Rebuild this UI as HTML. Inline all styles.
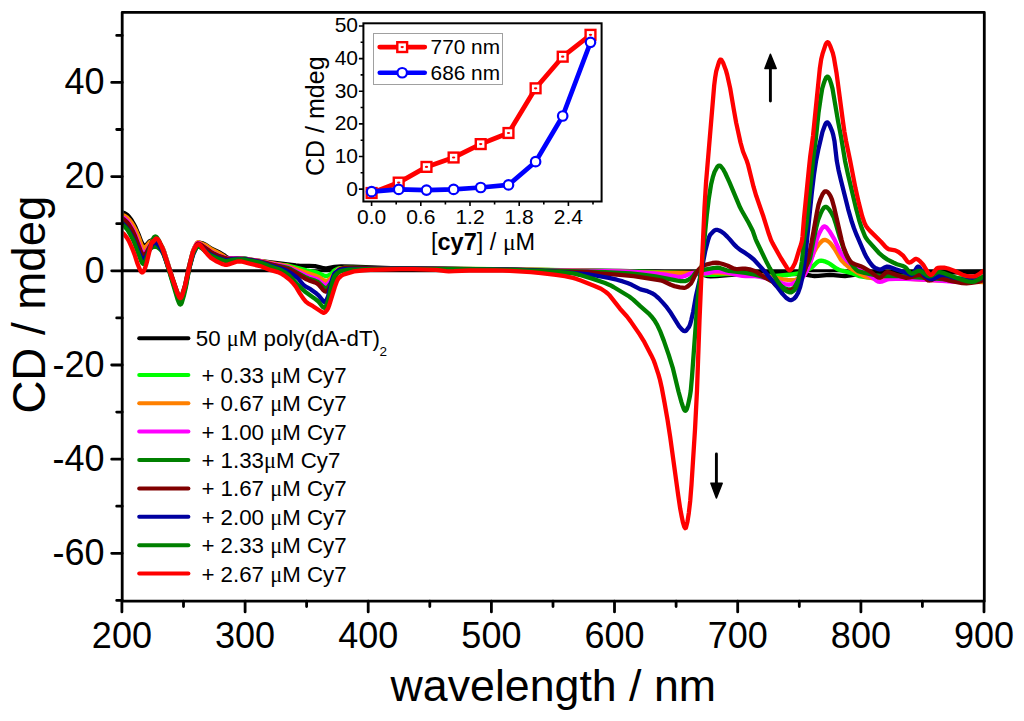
<!DOCTYPE html><html><head><meta charset="utf-8"><style>html,body{margin:0;padding:0;background:#fff;}svg{display:block;}text{font-family:"Liberation Sans",sans-serif;}</style></head><body>
<svg width="1024" height="721" viewBox="0 0 1024 721">
<rect width="1024" height="721" fill="#fff"/>
<line x1="122" y1="270.8" x2="984" y2="270.8" stroke="#000" stroke-width="3"/>
<defs><clipPath id="pc"><rect x="123.4" y="13.5" width="859.6" height="586"/></clipPath></defs>
<g fill="none" stroke-width="4.3" stroke-linejoin="round" stroke-linecap="round" clip-path="url(#pc)">
<path stroke="#000000" d="M121.0 211.6 L124.5 213.2 L127.2 214.8 L128.8 216.4 L131.5 220.1 L133.5 223.5 L135.5 227.3 L138.5 234.3 L141.2 241.5 L142.8 244.6 L143.5 245.6 L144.5 245.8 L145.8 245.2 L146.8 244.4 L149.2 241.6 L150.2 240.9 L152.0 240.2 L153.8 239.9 L155.8 240.2 L157.2 240.9 L159.2 242.7 L161.2 245.3 L162.5 247.5 L164.0 251.2 L173.0 279.8 L177.0 291.4 L178.8 295.5 L179.5 296.6 L180.2 297.1 L180.8 297.0 L181.2 296.4 L182.2 294.5 L185.2 284.8 L189.2 265.6 L191.8 255.3 L193.0 251.0 L194.5 247.6 L196.5 244.3 L197.8 243.0 L199.5 242.6 L202.5 243.3 L206.0 244.9 L211.5 248.7 L218.5 251.9 L223.8 255.0 L227.2 257.6 L228.8 258.2 L244.0 258.4 L252.0 259.9 L257.0 260.6 L295.8 265.5 L300.0 265.8 L309.2 265.8 L315.0 266.1 L320.2 267.3 L323.5 268.2 L325.0 268.4 L326.8 268.3 L334.5 266.8 L341.2 266.3 L353.2 266.6 L384.0 268.0 L398.2 268.5 L620.0 270.8 L659.5 272.0 L700.0 274.0 L702.2 274.4 L707.8 276.2 L710.5 276.4 L716.8 276.1 L728.0 275.0 L735.0 274.6 L755.0 274.1 L777.8 273.8 L801.0 274.0 L804.2 274.4 L811.2 275.7 L814.5 276.0 L818.2 275.9 L826.5 275.1 L830.0 275.0 L833.5 275.1 L841.5 275.9 L845.0 276.0 L848.8 275.7 L858.8 274.1 L873.8 273.5 L937.8 272.5 L984.0 272.0"/>
<path stroke="#00ff00" d="M121.0 215.6 L124.0 217.0 L127.0 219.2 L128.8 221.2 L131.5 225.2 L133.5 228.8 L135.5 233.0 L138.5 240.4 L141.0 247.6 L142.2 250.3 L143.2 251.8 L143.8 252.0 L144.2 251.9 L145.2 251.2 L146.8 249.2 L149.8 243.8 L151.2 242.4 L153.0 241.4 L155.0 241.0 L156.8 241.5 L158.5 242.9 L160.5 245.2 L162.2 248.0 L164.0 252.3 L173.2 281.6 L177.0 292.2 L178.8 296.1 L179.5 297.1 L180.2 297.6 L180.8 297.5 L181.2 297.0 L182.2 295.1 L185.2 285.8 L189.2 266.6 L191.5 257.4 L193.0 252.1 L194.8 247.9 L196.2 244.9 L197.2 243.5 L198.2 243.0 L199.5 243.2 L201.5 244.0 L206.0 246.0 L208.0 247.2 L211.8 249.9 L218.0 253.1 L223.2 256.3 L226.2 258.4 L228.8 259.6 L231.2 259.7 L240.0 258.6 L244.0 258.7 L260.8 261.1 L276.0 264.5 L288.2 265.5 L306.5 270.3 L317.2 272.7 L323.8 275.5 L326.0 276.1 L328.0 275.7 L331.0 274.0 L334.2 270.7 L337.5 268.8 L339.2 268.3 L344.8 268.0 L494.8 269.2 L548.0 270.0 L638.8 271.7 L682.5 272.8 L691.0 273.2 L703.8 274.6 L709.0 274.9 L714.0 274.8 L725.0 274.0 L729.8 273.9 L762.8 275.6 L775.5 275.9 L791.0 274.5 L798.0 273.4 L802.2 272.4 L806.0 270.8 L811.2 267.9 L812.8 266.6 L816.5 262.7 L818.0 261.5 L819.2 261.0 L821.2 260.7 L822.8 260.9 L824.5 261.3 L828.5 263.0 L830.5 264.3 L836.0 268.3 L839.0 269.7 L842.2 270.7 L851.5 273.1 L859.0 276.1 L867.0 277.3 L873.2 277.8 L879.2 278.0 L983.5 278.0"/>
<path stroke="#ff8000" d="M121.0 214.1 L124.2 215.6 L127.2 217.6 L129.0 219.4 L131.8 223.1 L133.8 226.4 L135.8 230.2 L138.8 237.3 L141.0 243.6 L142.2 246.1 L143.2 247.6 L144.0 247.8 L145.0 247.4 L146.5 246.1 L150.0 242.0 L152.0 240.7 L154.0 240.1 L155.8 240.1 L157.2 240.8 L159.0 242.4 L160.8 244.6 L162.5 247.5 L164.0 251.3 L173.0 279.7 L177.5 292.9 L179.0 296.3 L179.8 297.3 L180.2 297.6 L180.8 297.4 L181.2 296.9 L182.2 294.8 L185.2 284.8 L189.0 266.7 L192.8 251.9 L193.8 249.1 L196.0 244.3 L197.0 242.8 L198.0 242.2 L206.0 245.6 L211.5 249.4 L218.0 252.7 L223.8 256.2 L227.0 258.5 L228.5 259.2 L230.8 259.3 L241.8 258.8 L245.8 259.1 L261.2 261.2 L286.5 265.9 L289.5 266.7 L295.0 268.8 L315.8 275.7 L318.5 276.9 L323.8 280.3 L326.0 281.1 L327.0 280.9 L328.0 280.4 L331.2 277.8 L334.2 273.8 L337.0 270.6 L338.5 269.3 L339.2 268.9 L341.2 268.4 L344.8 268.0 L489.0 269.2 L531.8 269.7 L603.5 271.1 L651.0 272.6 L669.8 273.0 L690.5 273.0 L705.8 272.5 L712.5 272.5 L761.0 275.1 L767.2 276.0 L783.0 279.3 L787.8 279.9 L792.2 280.1 L795.2 280.0 L797.0 279.2 L802.2 275.0 L804.5 272.6 L805.8 270.9 L807.0 268.4 L809.8 262.3 L813.8 252.5 L816.2 247.9 L818.8 244.4 L821.5 241.5 L823.2 240.1 L824.8 239.8 L826.0 240.1 L827.5 240.9 L829.5 242.4 L831.0 244.0 L834.8 249.1 L841.0 259.8 L842.8 261.8 L845.5 264.4 L850.0 268.0 L856.0 271.8 L863.8 275.9 L867.0 277.2 L873.5 278.5 L878.2 279.0 L883.2 278.9 L894.8 278.1 L899.8 278.0 L929.0 280.0 L983.5 282.0"/>
<path stroke="#ff00ff" d="M121.0 216.6 L123.8 218.0 L127.0 220.7 L128.8 223.0 L131.8 227.7 L133.8 231.3 L135.2 234.5 L141.0 249.7 L142.2 252.0 L143.2 253.2 L143.8 253.4 L144.2 253.3 L145.5 252.3 L146.8 250.7 L150.0 245.0 L152.2 242.6 L154.0 241.3 L155.5 241.0 L156.8 241.3 L158.2 242.4 L160.0 244.5 L162.2 248.0 L163.8 251.6 L173.2 281.6 L177.2 293.0 L179.0 296.9 L179.8 297.8 L180.2 298.1 L180.8 298.0 L181.2 297.4 L182.2 295.5 L185.2 285.8 L189.2 266.6 L192.8 252.9 L193.8 250.1 L196.0 245.2 L197.0 243.7 L198.0 243.0 L198.8 243.2 L199.8 243.7 L212.2 252.5 L217.2 255.0 L222.5 257.0 L225.5 257.8 L228.2 258.2 L242.0 258.7 L254.0 260.2 L261.0 261.4 L270.8 263.7 L282.5 265.9 L287.8 267.1 L291.2 268.4 L306.5 275.7 L317.2 279.4 L319.0 280.5 L323.2 284.2 L324.5 284.9 L325.5 285.2 L326.8 284.9 L328.5 283.3 L331.8 279.3 L334.8 275.2 L337.8 270.5 L338.5 269.7 L339.2 269.2 L361.2 268.7 L384.8 268.4 L509.5 269.6 L590.0 270.8 L619.5 271.4 L635.2 272.0 L653.8 273.5 L667.5 275.0 L676.8 276.6 L680.5 277.0 L682.2 276.8 L685.2 275.9 L690.0 273.7 L691.8 273.2 L695.5 272.9 L703.0 273.4 L706.2 273.3 L708.8 272.9 L714.5 271.3 L717.2 271.0 L721.5 271.5 L737.2 274.8 L742.5 275.8 L745.8 276.0 L753.2 275.9 L760.2 276.8 L772.2 279.6 L778.0 281.5 L782.2 283.2 L784.8 284.0 L787.2 284.5 L789.2 284.6 L792.0 284.0 L793.2 283.5 L795.2 282.3 L798.2 279.8 L801.8 278.2 L803.2 276.8 L805.0 274.3 L808.8 267.0 L810.2 263.2 L813.2 253.5 L816.5 240.6 L817.8 236.6 L819.8 232.2 L821.5 229.0 L823.0 227.1 L823.8 226.6 L824.5 226.4 L825.5 226.7 L826.8 227.7 L829.5 231.2 L834.5 239.6 L839.2 249.9 L841.0 253.2 L843.5 256.6 L846.8 260.4 L849.5 263.0 L852.2 265.1 L856.8 267.9 L870.2 275.7 L876.0 280.4 L878.2 281.7 L879.8 281.9 L881.5 281.7 L887.2 279.5 L889.0 279.1 L895.5 278.9 L905.8 278.9 L915.8 279.3 L931.8 280.1 L952.5 281.6 L961.5 282.0 L970.0 281.6 L983.5 280.0"/>
<path stroke="#008000" d="M121.0 220.6 L122.2 221.1 L123.5 222.0 L126.8 224.9 L128.5 227.1 L131.0 231.0 L132.8 234.1 L134.8 238.3 L140.5 253.3 L141.8 255.5 L143.0 257.2 L143.8 257.4 L144.8 256.8 L146.5 254.5 L149.8 249.3 L151.5 247.8 L153.5 246.9 L155.5 246.6 L157.5 247.3 L159.8 249.0 L162.0 251.4 L163.5 254.1 L165.2 258.4 L177.8 294.6 L179.0 297.3 L179.8 298.3 L180.2 298.6 L181.0 298.2 L181.8 297.0 L183.8 291.0 L185.8 283.8 L189.2 267.6 L191.5 258.9 L193.0 254.0 L195.0 249.5 L196.8 246.5 L198.0 245.2 L199.5 244.6 L201.0 245.3 L211.0 252.5 L212.8 253.6 L219.0 256.5 L224.5 258.4 L226.8 258.8 L230.2 259.2 L242.0 259.3 L252.5 260.7 L260.2 262.1 L271.0 264.7 L283.2 266.9 L288.5 268.2 L291.0 269.3 L306.2 277.6 L309.0 278.7 L315.0 280.6 L317.5 281.7 L319.2 283.0 L323.5 287.0 L324.8 287.8 L325.8 288.0 L326.8 287.8 L328.0 286.8 L331.5 282.3 L335.0 276.7 L337.8 271.5 L338.8 270.1 L339.5 269.5 L341.2 268.7 L343.0 268.2 L344.5 268.0 L509.8 269.6 L548.2 270.5 L605.0 272.2 L630.5 273.5 L642.2 274.6 L655.5 276.4 L677.5 280.6 L680.5 281.0 L683.8 281.1 L685.5 281.0 L687.2 280.4 L689.0 279.4 L691.8 277.5 L693.0 276.2 L695.8 272.2 L697.0 271.2 L700.5 270.4 L707.5 269.2 L713.2 268.1 L717.2 267.7 L720.5 268.2 L726.8 270.4 L729.0 270.9 L745.5 272.8 L753.8 274.3 L761.2 276.2 L766.2 277.9 L771.2 280.1 L784.8 288.4 L787.5 289.3 L790.5 289.5 L791.8 289.1 L793.0 288.3 L794.2 287.3 L795.2 286.0 L807.0 264.8 L808.8 261.2 L809.8 258.7 L810.5 255.9 L813.8 238.7 L816.5 226.4 L818.2 219.8 L820.5 213.9 L822.5 209.7 L824.0 207.6 L824.8 207.1 L825.5 206.9 L826.2 207.0 L827.2 207.5 L829.2 209.5 L831.2 212.6 L833.8 217.6 L835.5 222.7 L839.8 237.6 L844.2 250.2 L847.0 256.6 L850.5 262.5 L853.5 266.9 L855.8 269.4 L858.0 271.1 L864.5 272.8 L876.5 275.5 L880.0 276.0 L899.8 276.0 L950.2 279.5 L961.0 280.0 L970.0 279.9 L983.5 279.0"/>
<path stroke="#800000" d="M121.0 217.8 L123.5 219.1 L127.0 222.2 L128.8 224.4 L131.2 228.3 L133.0 231.6 L135.0 235.9 L140.8 251.2 L142.2 253.9 L143.2 255.1 L143.8 255.2 L144.2 255.1 L145.2 254.2 L146.8 252.1 L149.8 246.3 L152.0 243.8 L153.8 242.4 L155.2 242.0 L156.8 242.4 L158.5 243.8 L160.2 245.9 L162.2 248.9 L163.8 252.3 L177.2 293.3 L179.0 297.3 L179.8 298.3 L180.2 298.6 L180.8 298.4 L181.2 297.9 L182.2 295.8 L185.0 286.7 L186.2 281.4 L189.0 267.7 L192.5 254.5 L193.5 251.7 L196.0 245.9 L197.0 244.2 L198.0 243.5 L199.0 243.8 L200.5 244.6 L211.0 252.1 L212.8 253.2 L219.0 256.1 L224.2 257.9 L226.2 258.4 L230.0 258.8 L239.0 258.8 L242.8 259.0 L255.2 260.6 L264.8 262.6 L280.8 266.8 L288.5 269.2 L291.2 270.4 L295.8 272.8 L306.5 279.3 L309.0 280.4 L314.8 282.4 L317.2 283.5 L319.0 285.0 L323.5 290.3 L324.8 291.3 L325.8 291.6 L326.8 291.3 L327.8 290.5 L331.2 285.3 L335.0 278.0 L337.5 272.6 L338.8 270.5 L339.5 269.8 L341.5 268.7 L343.2 268.2 L344.8 268.0 L501.0 269.5 L517.5 270.0 L560.2 271.8 L588.0 272.0 L600.0 273.4 L619.8 274.9 L633.8 276.2 L659.0 280.1 L661.8 280.6 L663.5 281.2 L670.8 284.8 L674.5 286.1 L679.8 287.4 L684.2 287.9 L685.8 287.5 L687.2 286.7 L689.0 285.3 L691.0 283.4 L692.2 281.3 L695.8 273.8 L698.5 269.7 L700.2 267.9 L703.5 265.8 L706.2 264.6 L712.5 263.0 L716.0 262.6 L719.0 263.0 L722.8 264.0 L727.8 265.7 L733.0 268.2 L735.2 268.9 L737.5 269.1 L742.5 268.6 L745.2 268.7 L749.8 269.4 L754.0 270.7 L756.5 271.9 L763.0 276.3 L771.8 281.3 L773.5 282.7 L776.0 285.5 L780.0 288.3 L782.0 289.2 L784.5 289.9 L787.0 290.4 L789.2 290.5 L791.2 290.1 L794.5 288.7 L796.0 287.6 L797.5 285.9 L798.8 283.8 L800.2 280.8 L803.2 274.2 L805.0 269.8 L807.2 262.8 L809.2 254.1 L811.5 242.7 L817.0 211.9 L818.5 204.8 L820.5 198.8 L822.5 194.3 L824.2 191.9 L825.0 191.4 L826.0 191.3 L827.5 191.9 L829.0 193.6 L830.5 196.1 L832.0 199.7 L834.0 206.8 L841.5 239.6 L843.5 247.0 L846.0 253.3 L848.2 258.0 L850.2 261.1 L851.2 262.2 L852.2 263.0 L855.0 264.2 L860.8 266.2 L863.2 267.4 L870.5 271.6 L876.8 276.6 L878.2 277.4 L879.5 277.7 L880.2 277.6 L881.2 277.1 L885.5 273.0 L886.5 272.3 L887.5 272.1 L890.2 272.7 L895.2 274.6 L901.8 276.7 L906.2 277.8 L908.0 277.7 L909.8 277.4 L917.2 275.1 L919.0 274.9 L920.2 275.0 L922.2 275.9 L927.0 279.6 L928.2 280.3 L929.2 280.5 L931.0 280.2 L935.5 278.0 L937.5 277.7 L940.8 278.3 L948.0 280.3 L957.0 282.2 L962.2 283.0 L966.5 283.3 L971.2 282.9 L978.2 281.8 L980.5 281.2 L983.5 280.0"/>
<path stroke="#0000a0" d="M121.0 222.6 L122.5 223.3 L124.2 225.0 L127.2 228.6 L129.5 232.0 L131.5 235.5 L133.5 239.6 L140.5 255.8 L141.8 257.8 L143.0 259.1 L143.8 259.3 L144.2 259.0 L145.5 257.5 L147.2 254.5 L152.0 244.9 L153.2 243.3 L154.5 242.7 L156.0 243.0 L157.5 244.0 L159.0 245.7 L161.8 250.1 L163.8 254.6 L169.0 270.1 L177.5 296.3 L179.0 299.8 L179.8 300.8 L180.2 301.1 L181.0 300.7 L181.8 299.4 L183.8 293.3 L185.8 285.8 L189.2 268.6 L192.8 255.7 L193.8 253.1 L196.2 248.0 L197.5 246.4 L198.5 246.0 L199.8 246.3 L201.5 247.4 L204.0 249.4 L207.2 252.3 L211.0 254.7 L217.5 257.6 L224.5 260.0 L226.8 260.3 L233.2 259.2 L237.2 258.9 L242.5 259.1 L247.2 259.6 L260.8 262.2 L270.0 265.4 L281.0 268.6 L285.5 270.2 L291.0 273.2 L297.0 277.5 L298.8 279.2 L302.2 283.6 L303.8 285.2 L305.8 286.7 L310.5 289.2 L316.5 293.6 L318.8 295.6 L323.0 300.9 L324.5 302.1 L325.2 301.7 L326.0 300.8 L328.0 296.6 L331.0 283.1 L332.8 277.4 L334.0 274.2 L334.8 273.1 L337.8 271.1 L340.0 270.0 L342.0 269.5 L349.8 269.0 L388.0 268.7 L415.2 268.7 L478.2 269.1 L521.2 270.0 L541.5 271.0 L568.2 272.6 L580.8 273.6 L589.5 274.5 L608.8 277.8 L616.8 279.7 L622.8 281.4 L627.5 283.1 L631.8 284.8 L640.5 289.3 L646.5 290.8 L649.2 291.9 L652.0 293.2 L654.8 294.9 L656.5 296.3 L658.8 298.4 L663.2 303.1 L666.0 306.3 L670.0 311.7 L679.2 326.3 L682.5 330.1 L683.8 331.0 L684.8 331.2 L685.5 331.0 L686.5 330.2 L689.0 326.9 L690.0 324.6 L691.2 320.3 L693.2 311.7 L695.8 296.8 L699.5 280.5 L705.2 251.3 L708.2 239.7 L709.2 236.7 L710.2 234.7 L713.5 231.3 L714.8 230.3 L715.8 229.9 L717.0 229.8 L719.2 230.5 L721.5 231.7 L724.0 233.5 L727.2 236.6 L730.0 239.6 L734.0 244.4 L736.8 247.1 L740.2 249.9 L745.5 253.2 L749.2 255.8 L753.8 259.5 L764.2 270.9 L777.0 286.7 L782.5 293.9 L786.2 297.9 L789.0 299.7 L790.0 300.1 L791.0 300.2 L792.2 299.8 L794.2 298.5 L796.0 296.5 L798.0 293.0 L800.2 286.7 L802.0 279.3 L803.5 270.6 L805.5 255.0 L811.8 192.7 L814.0 174.4 L816.0 161.2 L818.5 148.7 L822.5 131.7 L825.2 124.4 L826.2 122.8 L826.8 122.5 L827.2 122.4 L827.8 122.6 L828.5 123.4 L829.8 125.6 L832.2 131.4 L833.2 134.9 L834.5 141.2 L836.8 160.9 L838.5 169.9 L840.8 179.7 L848.2 209.3 L851.8 221.8 L854.0 228.3 L856.5 234.7 L865.0 254.3 L866.5 257.2 L869.2 261.5 L871.2 264.3 L873.0 266.3 L875.2 268.0 L878.0 269.1 L879.8 269.5 L881.8 269.1 L885.2 267.2 L886.5 266.7 L887.5 266.6 L889.0 266.8 L895.8 269.3 L904.8 272.2 L909.5 274.4 L911.5 274.9 L912.2 274.6 L913.2 273.5 L916.8 267.6 L917.8 266.7 L918.5 266.6 L919.2 267.1 L920.2 268.4 L923.5 274.3 L924.8 275.9 L928.5 278.3 L929.8 278.9 L931.0 279.1 L932.0 279.1 L933.5 278.7 L939.8 275.6 L941.2 275.1 L942.8 274.9 L945.8 275.3 L953.2 277.5 L960.5 279.0 L966.2 280.0 L970.8 280.5 L973.2 280.5 L975.8 280.1 L983.5 277.7"/>
<path stroke="#008000" d="M121.0 224.1 L123.0 225.2 L125.8 227.8 L127.8 230.2 L130.2 234.4 L132.5 238.7 L134.8 243.9 L141.0 260.8 L142.2 263.1 L143.2 264.0 L144.0 263.9 L144.5 263.3 L146.2 259.4 L152.0 241.5 L153.2 238.5 L154.2 237.1 L155.2 236.4 L156.2 236.8 L157.2 237.8 L158.5 239.8 L159.8 242.4 L163.0 250.5 L177.5 299.2 L179.0 303.1 L179.8 304.3 L180.2 304.6 L181.0 304.2 L181.8 302.7 L183.8 295.9 L185.8 287.5 L189.2 268.7 L192.5 255.4 L193.5 252.6 L195.8 248.5 L197.0 246.9 L198.0 246.5 L199.5 247.0 L201.5 248.2 L204.2 250.4 L208.0 253.7 L210.2 255.2 L216.5 258.0 L224.5 260.8 L225.8 261.1 L227.0 261.1 L234.0 259.7 L237.8 259.4 L242.2 259.5 L246.5 260.0 L257.5 262.0 L261.0 262.8 L270.0 266.3 L278.2 269.1 L281.8 270.6 L285.5 272.7 L289.0 275.2 L291.2 277.4 L296.5 283.4 L302.8 289.7 L305.5 292.0 L313.8 297.9 L317.8 301.0 L319.0 302.2 L322.5 306.7 L324.0 307.8 L324.8 307.6 L325.8 306.3 L328.0 301.1 L331.2 286.8 L333.2 279.5 L334.5 276.3 L337.2 273.4 L340.2 271.4 L342.0 270.8 L348.5 269.6 L374.8 268.8 L410.8 268.8 L491.5 269.4 L514.8 269.9 L552.0 271.7 L562.8 272.4 L572.8 273.4 L575.8 273.9 L579.2 274.8 L593.0 278.9 L605.0 283.0 L610.2 285.2 L613.5 287.0 L629.2 296.5 L633.2 299.6 L640.5 306.3 L648.5 313.3 L651.2 316.2 L654.5 320.4 L657.2 324.9 L660.0 330.8 L663.8 340.6 L668.8 355.1 L673.0 368.7 L678.5 391.5 L681.5 402.4 L682.8 406.3 L684.0 409.4 L684.8 410.6 L685.5 410.8 L686.0 410.4 L686.8 409.1 L688.0 405.1 L690.0 395.7 L690.8 390.4 L692.0 376.8 L697.2 305.2 L698.8 288.3 L701.8 266.1 L706.8 215.0 L708.8 198.6 L711.0 184.8 L713.0 176.6 L714.5 172.0 L717.2 167.0 L718.0 166.1 L718.8 165.6 L719.8 165.6 L720.8 166.3 L723.0 169.0 L725.2 173.0 L729.5 182.4 L740.0 207.3 L741.8 210.7 L748.5 222.5 L751.2 227.7 L752.8 231.0 L755.5 238.8 L757.0 242.3 L766.8 262.6 L769.8 268.2 L775.2 277.5 L778.2 282.1 L780.8 285.5 L784.2 289.5 L785.5 290.5 L787.2 291.5 L788.8 292.1 L790.0 292.4 L791.0 292.4 L791.8 292.1 L794.0 290.5 L795.0 289.2 L796.2 286.7 L797.8 282.2 L800.0 272.7 L801.8 262.0 L802.5 255.8 L804.0 240.0 L806.2 226.2 L807.0 220.0 L813.0 160.3 L815.8 139.1 L818.5 113.0 L820.8 97.1 L822.2 88.6 L824.0 82.7 L825.0 79.9 L826.0 77.8 L826.8 76.9 L827.5 76.6 L828.5 77.3 L829.8 79.6 L831.2 83.9 L832.5 88.6 L838.0 121.0 L841.2 137.7 L845.0 160.7 L848.0 174.6 L856.2 208.9 L859.2 220.3 L861.8 228.3 L865.0 236.2 L866.0 238.0 L867.5 240.1 L878.8 252.8 L883.5 256.9 L887.5 259.6 L893.2 262.5 L897.0 264.2 L902.2 265.7 L904.5 266.7 L906.0 267.9 L909.5 272.3 L910.5 273.1 L911.2 273.5 L912.2 273.6 L913.2 273.3 L917.5 271.1 L918.5 270.8 L919.5 270.8 L920.5 271.1 L921.8 271.7 L927.0 275.5 L928.2 276.1 L929.5 276.3 L930.5 276.1 L931.8 275.7 L935.8 273.1 L937.2 272.4 L938.5 272.1 L940.0 272.2 L944.8 273.4 L958.2 278.5 L963.2 280.2 L967.8 281.4 L971.5 281.9 L973.8 281.7 L976.2 280.7 L978.8 279.4 L983.5 276.3"/>
<path stroke="#ff0000" d="M121.0 232.2 L122.5 232.8 L124.2 234.4 L127.0 237.9 L128.8 240.9 L131.2 246.1 L133.2 251.0 L135.0 255.8 L137.2 262.9 L139.5 268.7 L140.8 271.2 L141.5 272.2 L142.0 272.5 L142.8 272.3 L143.5 271.6 L144.2 270.3 L145.0 268.3 L146.8 262.4 L149.5 250.9 L151.2 244.2 L152.0 242.1 L152.5 241.5 L153.0 242.0 L153.5 241.6 L155.2 239.2 L156.0 238.5 L156.8 238.6 L157.8 239.3 L158.8 240.6 L159.8 242.4 L162.5 248.5 L164.2 253.6 L168.2 266.5 L177.2 292.8 L179.0 296.9 L179.8 297.9 L180.2 298.2 L180.8 298.0 L181.2 297.5 L182.2 295.4 L185.2 285.3 L191.2 258.6 L193.0 252.0 L194.0 249.6 L196.0 246.2 L197.2 244.8 L198.5 244.4 L199.5 244.6 L200.5 245.5 L205.8 252.4 L208.8 255.7 L211.0 257.9 L215.8 261.0 L221.8 263.9 L224.8 264.8 L226.5 264.9 L228.5 264.4 L236.5 261.7 L239.0 261.4 L241.5 261.5 L249.8 263.7 L260.2 266.1 L270.0 269.9 L277.8 272.1 L281.0 273.5 L284.0 275.4 L288.8 279.0 L291.0 281.0 L293.2 283.4 L296.0 286.8 L300.0 293.6 L303.0 298.2 L305.8 301.6 L308.0 303.3 L313.0 306.2 L321.0 311.5 L323.5 312.8 L324.5 312.6 L325.5 311.9 L327.0 310.1 L328.2 308.1 L329.2 305.3 L334.8 287.0 L337.0 281.0 L338.5 278.4 L341.5 275.7 L344.0 274.4 L354.0 271.4 L361.8 270.5 L370.5 269.9 L384.8 269.5 L400.8 269.2 L413.0 269.1 L436.2 269.8 L445.8 271.1 L448.8 271.3 L454.2 271.2 L469.2 270.5 L495.2 270.4 L509.8 270.9 L531.0 272.2 L541.0 273.1 L556.0 274.9 L564.8 276.2 L573.0 277.9 L576.5 278.9 L580.8 280.5 L594.0 285.7 L601.0 288.8 L605.5 291.7 L608.0 293.7 L609.2 294.9 L620.0 308.7 L627.0 316.5 L630.5 321.1 L639.8 334.6 L643.8 341.1 L651.2 355.2 L653.8 360.7 L655.2 364.6 L658.5 374.6 L660.0 380.0 L661.8 388.0 L664.5 402.5 L667.5 419.7 L670.2 437.2 L678.2 495.3 L680.2 508.7 L681.8 517.0 L683.0 522.7 L684.2 526.7 L684.8 527.7 L685.2 528.2 L685.8 527.9 L686.2 526.8 L687.5 521.4 L688.8 513.1 L690.2 501.0 L691.5 484.6 L695.0 429.7 L697.0 390.6 L699.5 320.1 L701.8 266.4 L704.5 207.5 L706.0 183.0 L714.2 85.3 L715.2 77.3 L716.2 71.4 L718.8 62.6 L719.5 60.8 L720.2 59.7 L720.8 59.6 L721.5 60.1 L723.0 62.6 L725.8 69.9 L727.2 74.9 L730.2 88.4 L733.8 109.5 L736.2 122.9 L740.5 142.5 L743.0 151.5 L746.8 160.8 L748.2 165.2 L753.5 186.7 L756.2 195.8 L763.5 216.8 L768.8 233.8 L771.0 240.0 L772.5 243.1 L780.8 258.0 L786.8 267.5 L787.8 268.9 L788.8 269.9 L789.2 270.2 L790.0 270.3 L791.2 269.4 L792.8 267.3 L794.8 263.6 L796.0 260.3 L799.0 250.3 L801.0 244.5 L802.0 240.5 L802.5 236.5 L804.0 218.2 L809.0 167.7 L810.2 156.6 L813.0 136.0 L819.8 68.6 L821.2 59.3 L822.5 53.9 L825.5 44.8 L826.5 42.9 L827.0 42.4 L827.5 42.2 L828.0 42.3 L828.8 43.1 L830.2 45.9 L832.8 53.1 L834.0 58.1 L836.5 72.8 L843.0 121.9 L844.5 132.1 L846.0 140.7 L850.2 160.9 L855.5 188.3 L858.8 202.9 L862.2 216.2 L864.5 222.9 L866.0 226.0 L867.8 228.3 L870.0 230.9 L881.0 241.8 L885.0 246.3 L887.0 248.1 L888.2 248.9 L889.5 249.4 L895.2 250.3 L898.5 252.0 L903.2 255.7 L907.0 261.0 L908.0 262.0 L908.8 262.5 L909.8 262.5 L910.8 262.2 L914.2 259.7 L915.5 259.0 L916.5 258.9 L917.8 259.4 L919.5 260.8 L922.8 264.2 L924.2 266.3 L928.2 272.8 L929.5 274.2 L930.5 274.8 L931.5 274.8 L932.5 274.0 L935.8 269.6 L937.0 268.3 L937.8 268.0 L940.5 267.6 L944.2 267.7 L948.0 268.5 L954.8 271.0 L962.5 274.8 L966.0 275.8 L969.5 276.3 L973.8 276.3 L976.0 275.8 L979.0 274.2 L983.5 270.8"/>
</g>
<g stroke="#000" stroke-width="2.8" stroke-linecap="round" fill="none">
<rect x="122.2" y="12.3" width="862.1" height="588.9" stroke-linecap="butt" stroke-linejoin="round"/>
<path d="M121.9 601.2V611.9000000000001 M183.5 601.2V606.6 M245.1 601.2V611.9000000000001 M306.6 601.2V606.6 M368.2 601.2V611.9000000000001 M429.8 601.2V606.6 M491.4 601.2V611.9000000000001 M553.0 601.2V606.6 M614.5 601.2V611.9000000000001 M676.1 601.2V606.6 M737.7 601.2V611.9000000000001 M799.3 601.2V606.6 M860.9 601.2V611.9000000000001 M922.4 601.2V606.6 M984.0 601.2V611.9000000000001 M122.2 600.4H116.7 M122.2 553.3H111.7 M122.2 506.2H116.7 M122.2 459.2H111.7 M122.2 412.1H116.7 M122.2 365.0H111.7 M122.2 317.9H116.7 M122.2 270.8H111.7 M122.2 223.7H116.7 M122.2 176.6H111.7 M122.2 129.5H116.7 M122.2 82.4H111.7 M122.2 35.4H116.7"/>
</g>
<g font-size="36" fill="#000">
<text x="121.9" y="648.3" text-anchor="middle">200</text>
<text x="245.1" y="648.3" text-anchor="middle">300</text>
<text x="368.2" y="648.3" text-anchor="middle">400</text>
<text x="491.4" y="648.3" text-anchor="middle">500</text>
<text x="614.5" y="648.3" text-anchor="middle">600</text>
<text x="737.7" y="648.3" text-anchor="middle">700</text>
<text x="860.9" y="648.3" text-anchor="middle">800</text>
<text x="984.0" y="648.3" text-anchor="middle">900</text>
<text x="104.5" y="565.0" text-anchor="end">-60</text>
<text x="104.5" y="470.9" text-anchor="end">-40</text>
<text x="104.5" y="376.7" text-anchor="end">-20</text>
<text x="104.5" y="282.5" text-anchor="end">0</text>
<text x="104.5" y="188.3" text-anchor="end">20</text>
<text x="104.5" y="94.1" text-anchor="end">40</text>
</g>
<text x="390.6" y="700.5" font-size="44.7">wavelength / nm</text>
<text transform="translate(44.8,304.6) rotate(-90)" text-anchor="middle" font-size="45.6">CD / mdeg</text>
<g fill="#000" stroke="#000" stroke-linejoin="round" stroke-linecap="round">
<line x1="770.4" y1="101" x2="770.4" y2="66" stroke-width="2.9"/>
<path d="M770.4 54.2 L764.9 68.6 L776.2 68.6Z" stroke-width="1.5"/>
<line x1="716.4" y1="454" x2="716.4" y2="486" stroke-width="2.9"/>
<path d="M716.4 497.9 L710.9 483.2 L722.2 483.2Z" stroke-width="1.5"/>
</g>
<g stroke-width="4" stroke-linecap="round">
<line x1="139.2" y1="338.3" x2="188.4" y2="338.3" stroke="#000000"/>
<line x1="139.2" y1="374.9" x2="188.4" y2="374.9" stroke="#00ff00"/>
<line x1="139.2" y1="403.2" x2="188.4" y2="403.2" stroke="#ff8000"/>
<line x1="139.2" y1="431.6" x2="188.4" y2="431.6" stroke="#ff00ff"/>
<line x1="139.2" y1="460" x2="188.4" y2="460" stroke="#008000"/>
<line x1="139.2" y1="488.4" x2="188.4" y2="488.4" stroke="#800000"/>
<line x1="139.2" y1="516.7" x2="188.4" y2="516.7" stroke="#0000a0"/>
<line x1="139.2" y1="545.2" x2="188.4" y2="545.2" stroke="#008000"/>
<line x1="139.2" y1="573.5" x2="188.4" y2="573.5" stroke="#ff0000"/>
</g><g font-size="22.3" fill="#000">
<text x="195.8" y="346.3">50 <tspan font-family="Liberation Serif">μ</tspan>M poly(dA-dT)<tspan font-size="13.5" dx="-0.5" dy="9.3">2</tspan></text>
<text x="201.4" y="382.9">+ 0.33 <tspan font-family="Liberation Serif">μ</tspan>M Cy7</text>
<text x="201.4" y="411.2">+ 0.67 <tspan font-family="Liberation Serif">μ</tspan>M Cy7</text>
<text x="201.4" y="439.6">+ 1.00 <tspan font-family="Liberation Serif">μ</tspan>M Cy7</text>
<text x="201.4" y="468">+ 1.33<tspan font-family="Liberation Serif">μ</tspan>M Cy7</text>
<text x="201.4" y="496.4">+ 1.67 <tspan font-family="Liberation Serif">μ</tspan>M Cy7</text>
<text x="201.4" y="524.7">+ 2.00 <tspan font-family="Liberation Serif">μ</tspan>M Cy7</text>
<text x="201.4" y="553.2">+ 2.33 <tspan font-family="Liberation Serif">μ</tspan>M Cy7</text>
<text x="201.4" y="581.5">+ 2.67 <tspan font-family="Liberation Serif">μ</tspan>M Cy7</text>
</g>
<rect x="363.4" y="23.3" width="238.2" height="178.2" fill="#fff" stroke="#000" stroke-width="2"/>
<path d="M371.6 201.5V206.0 M396.2 201.5V204.5 M420.8 201.5V206.0 M445.4 201.5V204.5 M470.0 201.5V206.0 M494.6 201.5V204.5 M519.2 201.5V206.0 M543.8 201.5V204.5 M568.4 201.5V206.0 M593.0 201.5V204.5 M363.4 189.1H358.9 M363.4 172.8H360.59999999999997 M363.4 156.5H358.9 M363.4 140.2H360.59999999999997 M363.4 123.9H358.9 M363.4 107.5H360.59999999999997 M363.4 91.2H358.9 M363.4 74.9H360.59999999999997 M363.4 58.6H358.9 M363.4 42.3H360.59999999999997 M363.4 26.0H358.9" stroke="#000" stroke-width="1.6" fill="none"/>
<g font-size="21" fill="#000">
<text x="371.6" y="224.2" text-anchor="middle">0.0</text>
<text x="420.8" y="224.2" text-anchor="middle">0.6</text>
<text x="470.0" y="224.2" text-anchor="middle">1.2</text>
<text x="519.2" y="224.2" text-anchor="middle">1.8</text>
<text x="568.4" y="224.2" text-anchor="middle">2.4</text>
<text x="358" y="195.5" text-anchor="end">0</text>
<text x="358" y="162.9" text-anchor="end">10</text>
<text x="358" y="130.3" text-anchor="end">20</text>
<text x="358" y="97.6" text-anchor="end">30</text>
<text x="358" y="65.0" text-anchor="end">40</text>
<text x="358" y="32.4" text-anchor="end">50</text>
</g>
<text x="431" y="249.5" font-size="23.5">[<tspan font-weight="bold">cy7</tspan>] / <tspan font-family="Liberation Serif">μ</tspan>M</text>
<text transform="translate(324,116.2) rotate(-90)" text-anchor="middle" font-size="25">CD / mdeg</text>
<polyline points="371.6,193.0 398.7,182.6 426.5,166.9 453.6,157.5 480.7,144.1 508.5,133.0 535.6,88.3 562.7,56.7 590.5,34.8" fill="none" stroke="#ff0000" stroke-width="4.8" stroke-linejoin="round"/>
<rect x="366.7" y="188.1" width="9.8" height="9.8" fill="#fff" stroke="#ff0000" stroke-width="2.4"/><ellipse cx="371.6" cy="193.0" rx="1.7" ry="1.1" fill="#ff0000"/>
<rect x="393.8" y="177.7" width="9.8" height="9.8" fill="#fff" stroke="#ff0000" stroke-width="2.4"/><ellipse cx="398.7" cy="182.6" rx="1.7" ry="1.1" fill="#ff0000"/>
<rect x="421.6" y="162.0" width="9.8" height="9.8" fill="#fff" stroke="#ff0000" stroke-width="2.4"/><ellipse cx="426.5" cy="166.9" rx="1.7" ry="1.1" fill="#ff0000"/>
<rect x="448.7" y="152.6" width="9.8" height="9.8" fill="#fff" stroke="#ff0000" stroke-width="2.4"/><ellipse cx="453.6" cy="157.5" rx="1.7" ry="1.1" fill="#ff0000"/>
<rect x="475.8" y="139.2" width="9.8" height="9.8" fill="#fff" stroke="#ff0000" stroke-width="2.4"/><ellipse cx="480.7" cy="144.1" rx="1.7" ry="1.1" fill="#ff0000"/>
<rect x="503.6" y="128.1" width="9.8" height="9.8" fill="#fff" stroke="#ff0000" stroke-width="2.4"/><ellipse cx="508.5" cy="133.0" rx="1.7" ry="1.1" fill="#ff0000"/>
<rect x="530.7" y="83.4" width="9.8" height="9.8" fill="#fff" stroke="#ff0000" stroke-width="2.4"/><ellipse cx="535.6" cy="88.3" rx="1.7" ry="1.1" fill="#ff0000"/>
<rect x="557.8" y="51.8" width="9.8" height="9.8" fill="#fff" stroke="#ff0000" stroke-width="2.4"/><ellipse cx="562.7" cy="56.7" rx="1.7" ry="1.1" fill="#ff0000"/>
<rect x="585.6" y="29.9" width="9.8" height="9.8" fill="#fff" stroke="#ff0000" stroke-width="2.4"/><ellipse cx="590.5" cy="34.8" rx="1.7" ry="1.1" fill="#ff0000"/>
<polyline points="371.6,191.7 398.7,189.4 426.5,190.1 453.6,189.4 480.7,187.5 508.5,184.9 535.6,161.7 562.7,116.0 590.5,42.3" fill="none" stroke="#0000ff" stroke-width="4.7" stroke-linejoin="round"/>
<circle cx="371.6" cy="191.7" r="4.75" fill="#fff" stroke="#0000ff" stroke-width="2.2"/>
<circle cx="398.7" cy="189.4" r="4.75" fill="#fff" stroke="#0000ff" stroke-width="2.2"/>
<circle cx="426.5" cy="190.1" r="4.75" fill="#fff" stroke="#0000ff" stroke-width="2.2"/>
<circle cx="453.6" cy="189.4" r="4.75" fill="#fff" stroke="#0000ff" stroke-width="2.2"/>
<circle cx="480.7" cy="187.5" r="4.75" fill="#fff" stroke="#0000ff" stroke-width="2.2"/>
<circle cx="508.5" cy="184.9" r="4.75" fill="#fff" stroke="#0000ff" stroke-width="2.2"/>
<circle cx="535.6" cy="161.7" r="4.75" fill="#fff" stroke="#0000ff" stroke-width="2.2"/>
<circle cx="562.7" cy="116.0" r="4.75" fill="#fff" stroke="#0000ff" stroke-width="2.2"/>
<circle cx="590.5" cy="42.3" r="4.75" fill="#fff" stroke="#0000ff" stroke-width="2.2"/>
<rect x="373.5" y="33.5" width="129" height="51" fill="#fff" stroke="#a0a0a0" stroke-width="1"/>
<line x1="379.8" y1="47.1" x2="424.7" y2="47.1" stroke="#ff0000" stroke-width="4.9" stroke-linecap="round"/>
<rect x="397.3" y="42.2" width="9.8" height="9.8" fill="#fff" stroke="#ff0000" stroke-width="2.4"/><ellipse cx="402.2" cy="47.1" rx="1.7" ry="1.1" fill="#ff0000"/>
<line x1="379.8" y1="72.75" x2="424.7" y2="72.75" stroke="#0000ff" stroke-width="4.7" stroke-linecap="round"/>
<circle cx="402.2" cy="72.75" r="4.75" fill="#fff" stroke="#0000ff" stroke-width="2.2"/>
<g font-size="20.8" fill="#000"><text x="430.6" y="53.8">770 nm</text><text x="430.6" y="79.8">686 nm</text></g>
</svg></body></html>
